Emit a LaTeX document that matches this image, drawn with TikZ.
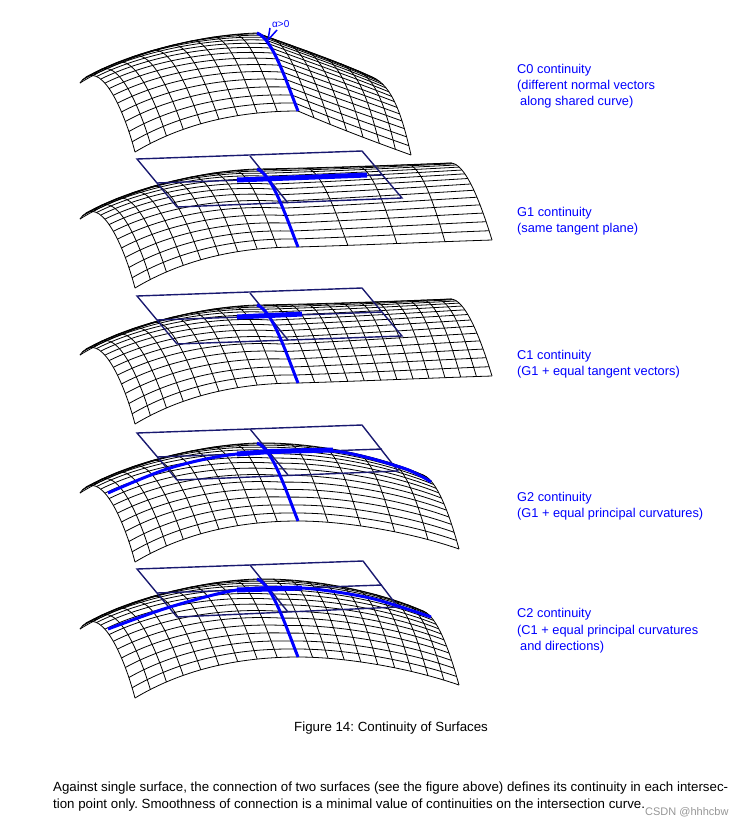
\documentclass[tikz,border=0pt]{standalone}
\usepackage{fontspec}
\setmainfont{Liberation Sans}
\frenchspacing
\definecolor{planeblue}{RGB}{25,25,112}
\definecolor{curveblue}{RGB}{0,0,255}
\definecolor{markgray}{RGB}{150,150,150}
\tikzset{
  gridline/.style={black,line width=0.8pt},
  planeline/.style={planeblue,line width=1.4pt,line join=miter},
  sharedcurve/.style={curveblue,line width=3pt},
  longcurve/.style={curveblue,line width=3pt},
  thickbar/.style={curveblue,line width=5pt},
  normalmark/.style={curveblue,line width=1.5pt},
  bluelabel/.style={anchor=base west,inner sep=0pt,text=curveblue,font=\fontsize{12.8}{12.8}\selectfont},
  blacklabel/.style={anchor=base west,inner sep=0pt,text=black,font=\fontsize{13.3}{13.3}\selectfont},
  marklabel/.style={anchor=base west,inner sep=0pt,text=markgray,font=\fontsize{11}{11}\selectfont}
}
% ---- bicubic patch: isolines are exact cubic Beziers
\newcommand\getw[1]{%
  \pgfmathsetmacro\wwa{(1-#1)*(1-#1)*(1-#1)}%
  \pgfmathsetmacro\wwb{3*#1*(1-#1)*(1-#1)}%
  \pgfmathsetmacro\wwc{3*#1*#1*(1-#1)}%
  \pgfmathsetmacro\wwd{#1*#1*#1}}
\newcommand\evalcol[2]{% coord, column
  \edef\tmpx{\wwa*\csname P#10#2\endcsname+\wwb*\csname P#11#2\endcsname+\wwc*\csname P#12#2\endcsname+\wwd*\csname P#13#2\endcsname}%
  \pgfmathsetmacro\res{\tmpx}}
\newcommand\evalrow[2]{% coord, row
  \edef\tmpx{\wwa*\csname P#1#20\endcsname+\wwb*\csname P#1#21\endcsname+\wwc*\csname P#1#22\endcsname+\wwd*\csname P#1#23\endcsname}%
  \pgfmathsetmacro\res{\tmpx}}
\newcommand\isoline[2]{% macro evalcol/evalrow, t
  \getw{#2}%
  #1x0\let\qax\res #1y0\let\qay\res
  #1x1\let\qbx\res #1y1\let\qby\res
  #1x2\let\qcx\res #1y2\let\qcy\res
  #1x3\let\qdx\res #1y3\let\qdy\res
  \draw[gridline] (\qax,\qay) .. controls (\qbx,\qby) and (\qcx,\qcy) .. (\qdx,\qdy);}
\newcommand\coons[1]{% coordinate
  \def\G##1{\csname P#1##1\endcsname}%
  \edef\exa{(-4*\G{00}+6*(\G{01}+\G{10})-2*(\G{03}+\G{30})+3*(\G{31}+\G{13})-\G{33})/9}%
  \edef\exb{(-4*\G{03}+6*(\G{02}+\G{13})-2*(\G{00}+\G{33})+3*(\G{32}+\G{10})-\G{30})/9}%
  \edef\exc{(-4*\G{30}+6*(\G{31}+\G{20})-2*(\G{33}+\G{00})+3*(\G{01}+\G{23})-\G{03})/9}%
  \edef\exd{(-4*\G{33}+6*(\G{32}+\G{23})-2*(\G{30}+\G{03})+3*(\G{02}+\G{20})-\G{00})/9}%
  \pgfmathsetmacro\rra{\exa}\pgfmathsetmacro\rrb{\exb}\pgfmathsetmacro\rrc{\exc}\pgfmathsetmacro\rrd{\exd}%
  \expandafter\global\expandafter\let\csname P#111\endcsname\rra
  \expandafter\global\expandafter\let\csname P#112\endcsname\rrb
  \expandafter\global\expandafter\let\csname P#121\endcsname\rrc
  \expandafter\global\expandafter\let\csname P#122\endcsname\rrd}
\newcommand\patch[3]{% nu, nv, boundary net
  \foreach \idx/\ptx/\pty in #3 {%
    \expandafter\xdef\csname Px\idx\endcsname{\ptx}%
    \expandafter\xdef\csname Py\idx\endcsname{\pty}}%
  \coons{x}\coons{y}%
  \foreach \k in {0,...,#2} {%
    \ifnum\k=0 \def\tval{0}\else\pgfmathsetmacro\tval{pow(\k/#2,1.2)}\fi
    \isoline{\evalcol}{\tval}}%
  \foreach \k in {0,...,#1} {\pgfmathsetmacro\tval{\k/#1}\isoline{\evalrow}{\tval}}}
% boundary nets, in the coordinates of the first surface
\def\NetLeft{00/80/83,01/120/58,02/190/35,03/257/33,10/100/55,20/124/110,30/135/152,31/180/125,32/235/111,33/298/111,13/272/38,23/285/78}
\def\NetCzero{00/257/33,01/290/45,02/340/62,03/372/77,10/272/38,20/285/78,30/298/111,31/335/127,32/375/142,33/411/155,13/392/85,23/402/115}
\def\NetWide{00/257/33,01/320/32,02/400/29,03/450/27,10/272/38,20/285/78,30/298/111,31/365/109,32/430/106,33/492/104,13/465/26,23/480/65}
\def\NetBent{00/257/33,01/310/32,02/375/44,03/423/65,10/272/38,20/285/78,30/298/111,31/345/111,32/410/122,33/459/139,13/437/70,23/449/103}
\newcommand\sharedline{\draw[sharedcurve] (257,33) .. controls (272,38) and (285,78) .. (298,111);}
\newcommand\tangentplane[8]{%
  \draw[planeline] (137,#1) -- (#2,#3) -- (#4,#5) -- (177,#6) -- cycle;
  \draw[planeline] (250,#7) -- (288,#8);
  \draw[planeline] (157,#1+24) -- (382,#3+24);}
\begin{document}
\begin{tikzpicture}[x=1pt,y=-1pt]
\useasboundingbox (0,0) rectangle (743,825);
% C0
\patch{9}{15}{\NetLeft}
\patch{7}{15}{\NetCzero}
\sharedline
\draw[normalmark] (268,40) -- (270,28);
\draw[normalmark] (268,40) -- (277,30);
\node[anchor=base west,inner sep=0pt,text=curveblue,font=\fontsize{10}{10}\selectfont] (alpha) at (272,27) {α>0};
% G1
\begin{scope}[shift={(0,136)}]
\patch{9}{15}{\NetLeft}
\patch{4}{15}{\NetWide}
\tangentplane{23}{362}{15}{402}{62}{71}{20}{67}
\sharedline
\draw[thickbar] (237,44) -- (367,39);
\end{scope}
% C1
\begin{scope}[shift={(0,272)}]
\patch{9}{15}{\NetLeft}
\patch{12}{15}{\NetWide}
\tangentplane{24}{362}{16}{402}{64}{72}{21}{68}
\sharedline
\draw[thickbar] (237,45) -- (302,42);
\end{scope}
% G2
\begin{scope}[shift={(0,410)}]
\patch{9}{15}{\NetLeft}
\patch{5}{15}{\NetBent}
\tangentplane{23}{362}{15}{398}{61}{70}{19}{65}
\sharedline
\draw[longcurve] plot[smooth] coordinates {(108,83) (170,58) (237,44) (333,41) (403,58) (431,72)};
\draw[thickbar] (237,44) -- (270,41.5) -- (333,40);
\end{scope}
% C2
\begin{scope}[shift={(0,546)}]
\patch{9}{15}{\NetLeft}
\patch{10}{15}{\NetBent}
\tangentplane{23}{363}{15}{398}{61}{71}{19}{66}
\sharedline
\draw[longcurve] plot[smooth] coordinates {(108,83) (170,61) (237,44) (302,42) (370,52) (431,71)};
\draw[thickbar] (237,44) -- (302,42);
\end{scope}
% labels
\node[bluelabel] (c0a) at (517,73) {C0 continuity};
\node[bluelabel] (c0b) at (517,89) {(different normal vectors};
\node[bluelabel] (c0c) at (520,105) {along shared curve)};
\node[bluelabel] (g1a) at (517,216) {G1 continuity};
\node[bluelabel] (g1b) at (517,232) {(same tangent plane)};
\node[bluelabel] (c1a) at (517,359) {C1 continuity};
\node[bluelabel] (c1b) at (517,375) {(G1 + equal tangent vectors)};
\node[bluelabel] (g2a) at (517,501) {G2 continuity};
\node[bluelabel] (g2b) at (517,517) {(G1 + equal principal curvatures)};
\node[bluelabel] (c2a) at (517,617) {C2 continuity};
\node[bluelabel] (c2b) at (517,634) {(C1 + equal principal curvatures};
\node[bluelabel] (c2c) at (520,650) {and directions)};
\node[blacklabel] (cap) at (294,731) {Figure 14: Continuity of Surfaces};
\node[blacklabel] (p1) at (53,791) {Against single surface, the connection of two surfaces (see the figure above) defines its continuity in each intersec-};
\node[blacklabel] (p2) at (53,808) {tion point only. Smoothness of connection is a minimal value of continuities on the intersection curve.};
\node[marklabel] (wm) at (645,815) {CSDN @hhhcbw};
\end{tikzpicture}
\end{document}
